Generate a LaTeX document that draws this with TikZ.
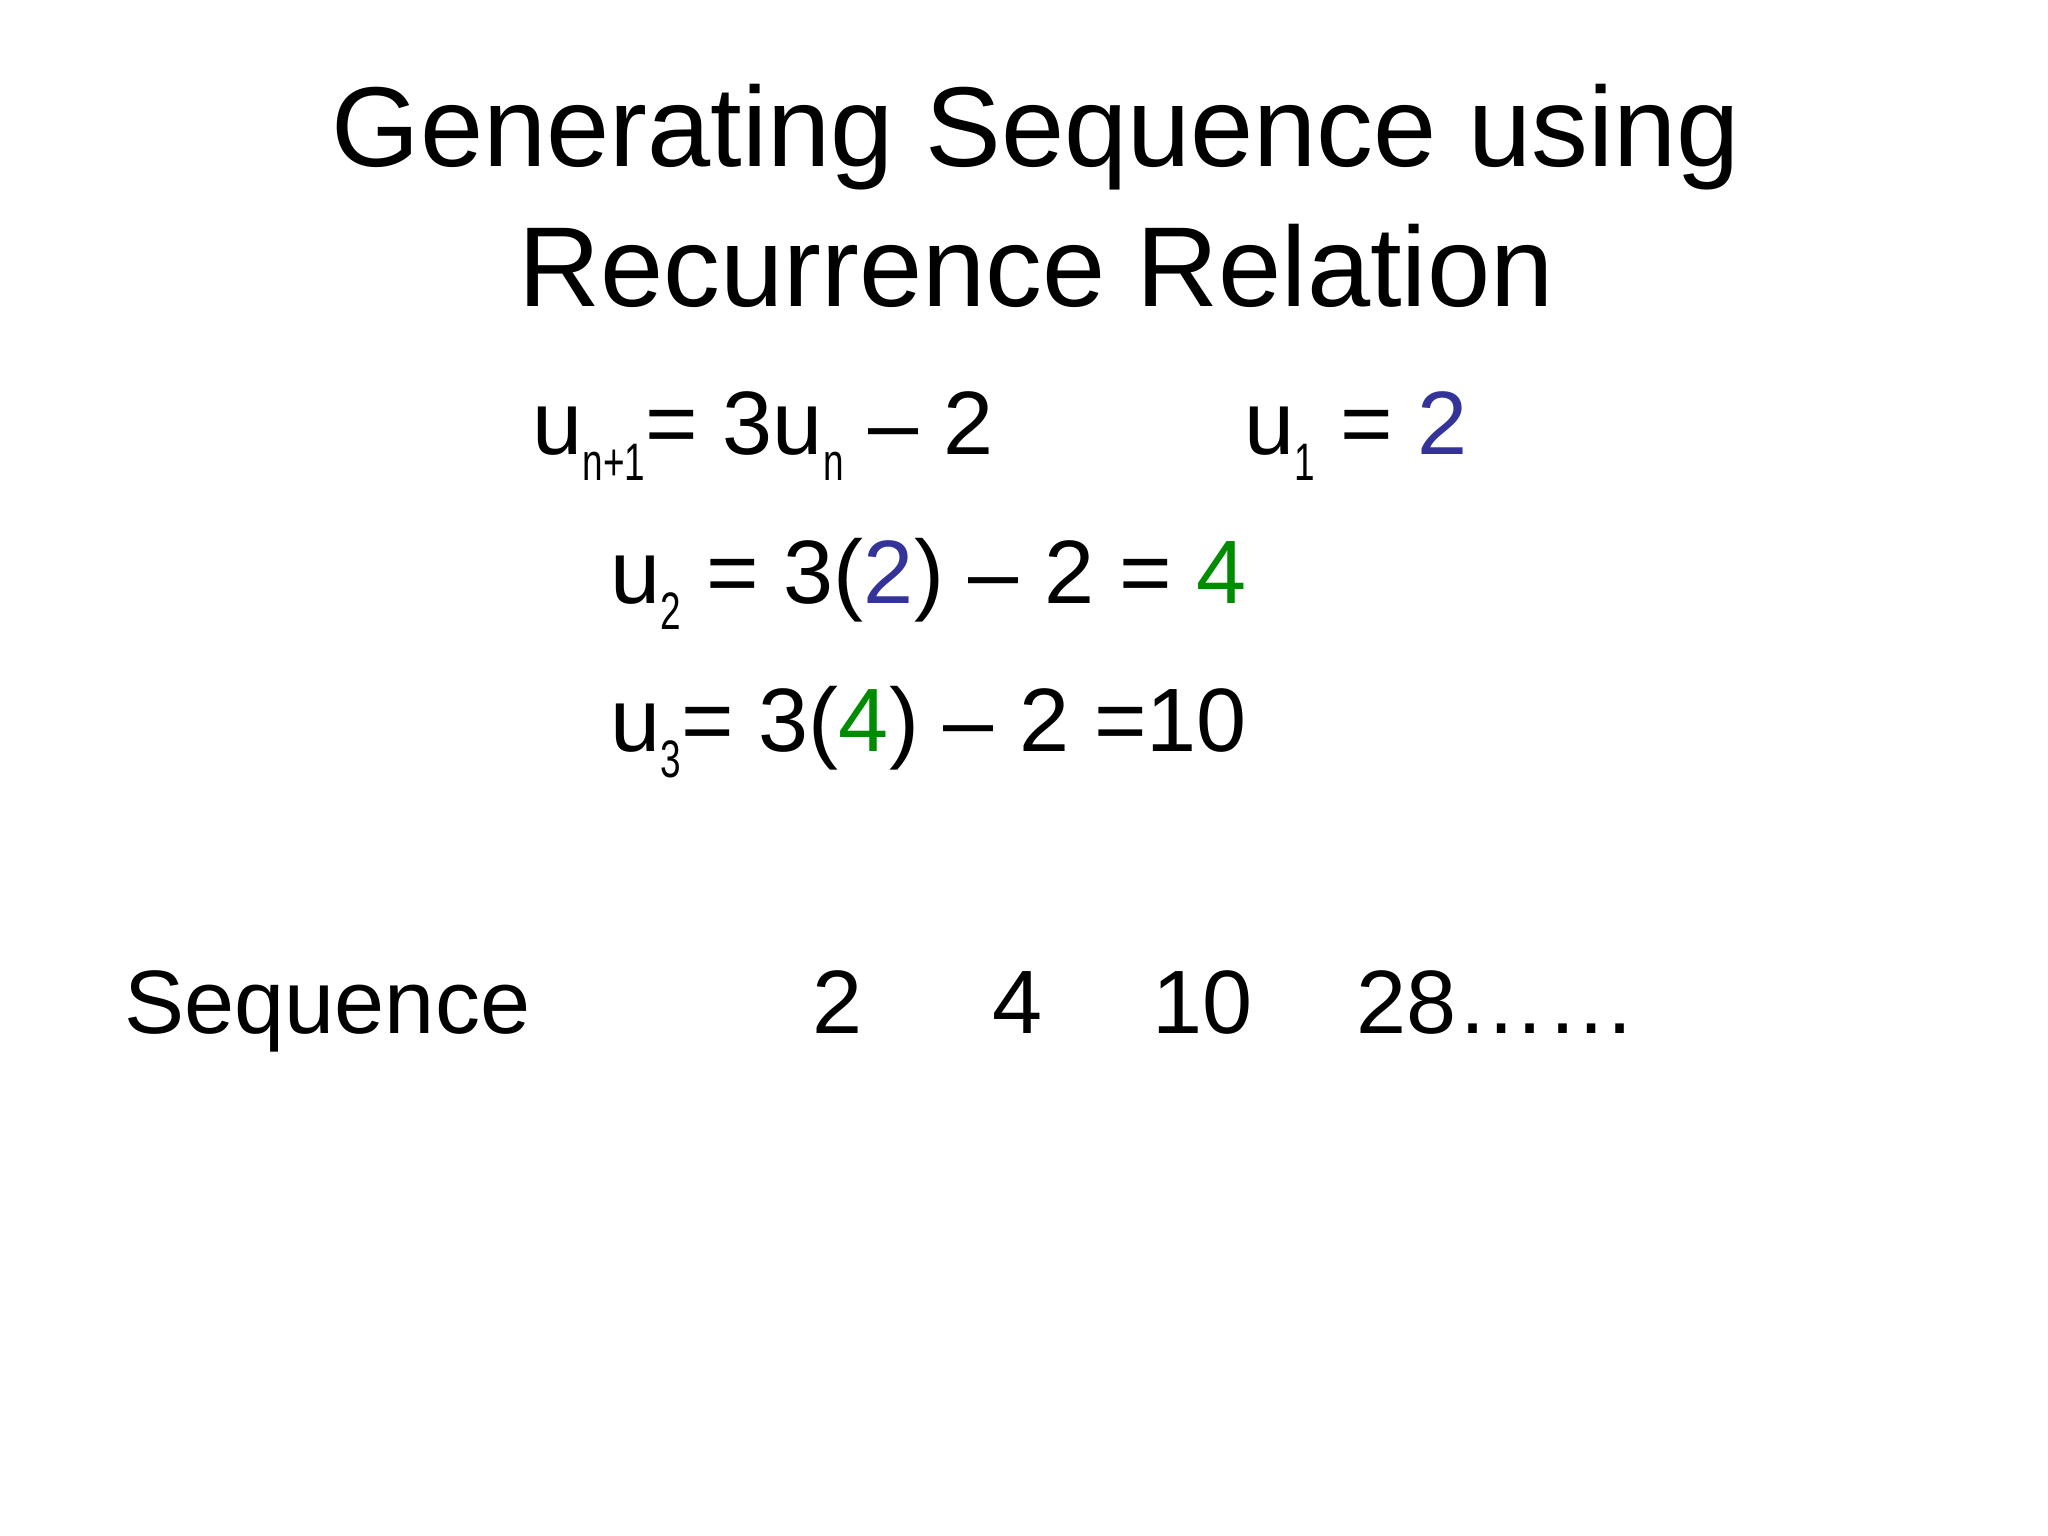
\documentclass[tikz,border=0pt]{standalone}
\usepackage{fontspec}
\setmainfont{Liberation Sans}
\definecolor{cblue}{RGB}{51,51,153}
\definecolor{cgreen}{RGB}{0,140,0}
\newcommand{\sbx}[1]{\raisebox{-0.55ex}{\fontsize{15}{16}\selectfont\scalebox{0.7}[1]{#1}}}
\begin{document}
\begin{tikzpicture}[x=0.01cm,y=-0.01cm,
  title/.style={font=\fontsize{32.3}{38}\selectfont,anchor=base,inner sep=0},
  body/.style={font=\fontsize{25.6}{30}\selectfont,anchor=base west,inner sep=0}]
\useasboundingbox (0,0) rectangle (2048,1536);
\node[title] (t1) at (1036,166) {Generating Sequence using};
\node[title] (t2) at (1036,306) {Recurrence Relation};
\node[body] (e1) at (532,454) {u\sbx{n+1}= 3u\sbx{n} – 2};
\node[body] (e0) at (1244,454) {u\sbx{1} = \textcolor{cblue}{2}};
\node[body] (e2) at (610,603) {u\sbx{2} = 3(\textcolor{cblue}{2}) – 2 = \textcolor{cgreen}{4}};
\node[body] (e3) at (610,751) {u\sbx{3}= 3(\textcolor{cgreen}{4}) – 2 =10};
\node[body] (s) at (124,1033) {Sequence};
\node[body] (s1) at (812,1033) {2};
\node[body] (s2) at (992,1033) {4};
\node[body] (s3) at (1152,1033) {10};
\node[body] (s4) at (1356,1033) {28……};
\end{tikzpicture}
\end{document}
